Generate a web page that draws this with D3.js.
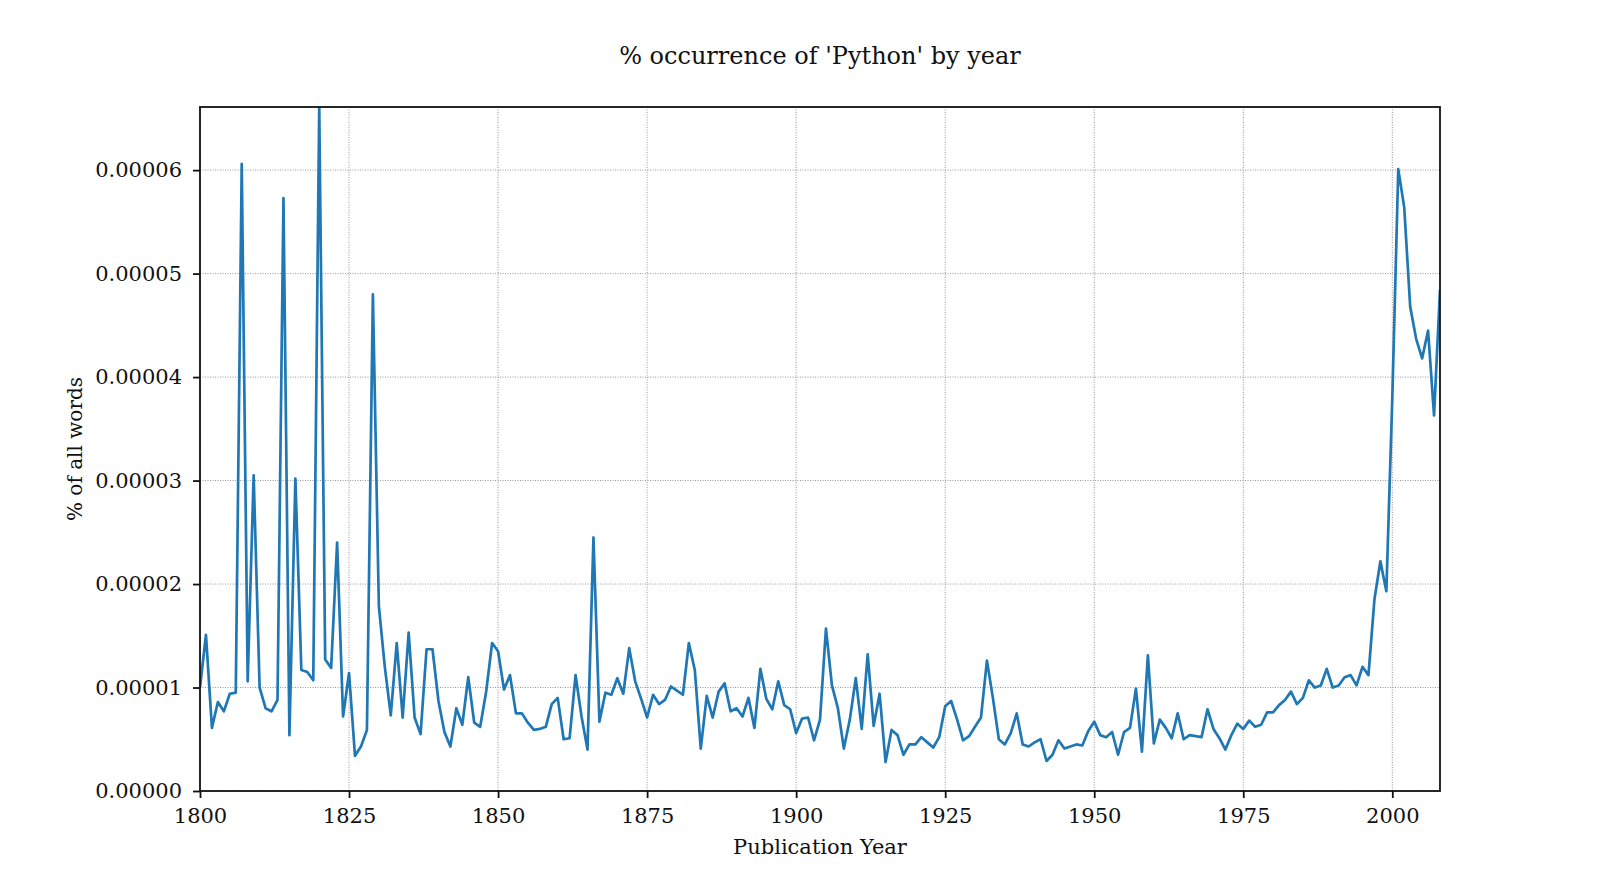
<!DOCTYPE html>
<html>
<head>
<meta charset="utf-8">
<script src="https://cdn.jsdelivr.net/npm/d3@7"></script>
<style>
  html, body { margin: 0; padding: 0; background: #fff; }
  svg text { font-family: "DejaVu Serif", serif; fill: #111; }
</style>
</head>
<body>
<div id="chart"></div>
<script>
// Adatok: 'Python' előfordulása (% az összes szóból), évente 1800-tól
const firstYear = 1800;
const share = [
  // 1800-1809
  1.00e-5, 1.51e-5, 0.61e-5, 0.86e-5, 0.77e-5, 0.94e-5, 0.95e-5, 6.06e-5, 1.06e-5, 3.05e-5,
  // 1810-1819
  1.00e-5, 0.80e-5, 0.77e-5, 0.88e-5, 5.73e-5, 0.54e-5, 3.02e-5, 1.17e-5, 1.15e-5, 1.07e-5,
  // 1820-1829
  6.61e-5, 1.27e-5, 1.19e-5, 2.40e-5, 0.72e-5, 1.14e-5, 0.34e-5, 0.43e-5, 0.59e-5, 4.80e-5,
  // 1830-1839
  1.79e-5, 1.20e-5, 0.73e-5, 1.43e-5, 0.71e-5, 1.53e-5, 0.71e-5, 0.55e-5, 1.37e-5, 1.37e-5,
  // 1840-1849
  0.87e-5, 0.57e-5, 0.43e-5, 0.80e-5, 0.64e-5, 1.10e-5, 0.66e-5, 0.62e-5, 0.96e-5, 1.43e-5,
  // 1850-1859
  1.35e-5, 0.98e-5, 1.12e-5, 0.75e-5, 0.75e-5, 0.66e-5, 0.59e-5, 0.60e-5, 0.62e-5, 0.84e-5,
  // 1860-1869
  0.90e-5, 0.50e-5, 0.51e-5, 1.12e-5, 0.72e-5, 0.40e-5, 2.45e-5, 0.67e-5, 0.95e-5, 0.93e-5,
  // 1870-1879
  1.09e-5, 0.94e-5, 1.38e-5, 1.06e-5, 0.89e-5, 0.71e-5, 0.93e-5, 0.84e-5, 0.88e-5, 1.01e-5,
  // 1880-1889
  0.97e-5, 0.93e-5, 1.43e-5, 1.17e-5, 0.41e-5, 0.92e-5, 0.71e-5, 0.96e-5, 1.04e-5, 0.77e-5,
  // 1890-1899
  0.80e-5, 0.72e-5, 0.90e-5, 0.61e-5, 1.18e-5, 0.89e-5, 0.79e-5, 1.06e-5, 0.83e-5, 0.79e-5,
  // 1900-1909
  0.56e-5, 0.70e-5, 0.71e-5, 0.49e-5, 0.69e-5, 1.57e-5, 1.02e-5, 0.80e-5, 0.41e-5, 0.69e-5,
  // 1910-1919
  1.09e-5, 0.60e-5, 1.32e-5, 0.63e-5, 0.94e-5, 0.28e-5, 0.59e-5, 0.54e-5, 0.35e-5, 0.45e-5,
  // 1920-1929
  0.45e-5, 0.52e-5, 0.47e-5, 0.42e-5, 0.52e-5, 0.82e-5, 0.87e-5, 0.69e-5, 0.49e-5, 0.53e-5,
  // 1930-1939
  0.62e-5, 0.71e-5, 1.26e-5, 0.90e-5, 0.50e-5, 0.45e-5, 0.56e-5, 0.75e-5, 0.45e-5, 0.43e-5,
  // 1940-1949
  0.47e-5, 0.50e-5, 0.29e-5, 0.35e-5, 0.49e-5, 0.41e-5, 0.43e-5, 0.45e-5, 0.44e-5, 0.58e-5,
  // 1950-1959
  0.67e-5, 0.54e-5, 0.52e-5, 0.57e-5, 0.35e-5, 0.57e-5, 0.61e-5, 0.99e-5, 0.38e-5, 1.31e-5,
  // 1960-1969
  0.46e-5, 0.69e-5, 0.61e-5, 0.51e-5, 0.75e-5, 0.50e-5, 0.54e-5, 0.53e-5, 0.52e-5, 0.79e-5,
  // 1970-1979
  0.60e-5, 0.51e-5, 0.40e-5, 0.54e-5, 0.65e-5, 0.60e-5, 0.68e-5, 0.62e-5, 0.64e-5, 0.76e-5,
  // 1980-1989
  0.76e-5, 0.83e-5, 0.88e-5, 0.96e-5, 0.84e-5, 0.90e-5, 1.07e-5, 1.00e-5, 1.02e-5, 1.18e-5,
  // 1990-1999
  1.00e-5, 1.02e-5, 1.10e-5, 1.12e-5, 1.02e-5, 1.20e-5, 1.12e-5, 1.85e-5, 2.22e-5, 1.93e-5,
  // 2000-2008
  3.80e-5, 6.01e-5, 5.64e-5, 4.68e-5, 4.37e-5, 4.18e-5, 4.45e-5, 3.63e-5, 4.84e-5
];
const years = share.map((_, i) => firstYear + i);

// Tengely feliratok
const xTicks = [1800, 1825, 1850, 1875, 1900, 1925, 1950, 1975, 2000];
const yTicks = [0, 1e-5, 2e-5, 3e-5, 4e-5, 5e-5, 6e-5];
const titleText = "% occurrence of 'Python' by year";
const xLabelText = 'Publication Year';
const yLabelText = '% of all words';

// Méretek
const width = 1600, height = 888;
const margin = { top: 107, right: 160, bottom: 97, left: 200 };
const plotW = width - margin.left - margin.right;
const plotH = height - margin.top - margin.bottom;
const lineColor = '#1f77b4';

const svg = d3.select('#chart')
  .append('svg')
  .attr('width', width)
  .attr('height', height);

svg.append('rect')
  .attr('width', width)
  .attr('height', height)
  .attr('fill', '#fff');

const g = svg.append('g')
  .attr('transform', `translate(${margin.left},${margin.top})`);

// Skálák
const x = d3.scaleLinear()
  .domain([firstYear, years[years.length - 1]])
  .range([0, plotW]);
const y = d3.scaleLinear()
  .domain([0, d3.max(share)])
  .range([plotH, 0]);

// Rácsvonalak (pontozott)
g.append('g')
  .selectAll('line')
  .data(xTicks)
  .join('line')
  .attr('x1', d => x(d))
  .attr('x2', d => x(d))
  .attr('y1', 0)
  .attr('y2', plotH)
  .attr('stroke', '#8a8a8a')
  .attr('stroke-width', 0.9)
  .attr('stroke-dasharray', '1,1.5');
g.append('g')
  .selectAll('line')
  .data(yTicks)
  .join('line')
  .attr('x1', 0)
  .attr('x2', plotW)
  .attr('y1', d => y(d))
  .attr('y2', d => y(d))
  .attr('stroke', '#8a8a8a')
  .attr('stroke-width', 0.9)
  .attr('stroke-dasharray', '1,1.5');

// Vonal
g.append('clipPath')
  .attr('id', 'plot-clip')
  .append('rect')
  .attr('width', plotW)
  .attr('height', plotH);

const line = d3.line()
  .x((d, i) => x(years[i]))
  .y(d => y(d));

g.append('path')
  .datum(share)
  .attr('clip-path', 'url(#plot-clip)')
  .attr('fill', 'none')
  .attr('stroke', lineColor)
  .attr('stroke-width', 2.7)
  .attr('stroke-linejoin', 'round')
  .attr('d', line);

// Tengelyek
const xAxis = g.append('g')
  .attr('transform', `translate(0,${plotH})`)
  .call(d3.axisBottom(x).tickValues(xTicks).tickFormat(d3.format('d'))
    .tickSize(7).tickPadding(10).tickSizeOuter(0));
const yAxis = g.append('g')
  .call(d3.axisLeft(y).tickValues(yTicks).tickFormat(d3.format('.5f'))
    .tickSize(7).tickPadding(11).tickSizeOuter(0));

[xAxis, yAxis].forEach(ax => {
  ax.select('.domain').remove();
  ax.selectAll('.tick line').attr('stroke', '#111').attr('stroke-width', 1.8);
  ax.selectAll('.tick text')
    .attr('font-family', '"DejaVu Serif", serif')
    .attr('font-size', 21)
    .attr('fill', '#111');
});

// Keret
g.append('rect')
  .attr('width', plotW)
  .attr('height', plotH)
  .attr('fill', 'none')
  .attr('stroke', '#111')
  .attr('stroke-width', 1.8);

// Cím és tengelycímek
svg.append('text')
  .attr('x', margin.left + plotW / 2)
  .attr('y', 64)
  .attr('text-anchor', 'middle')
  .attr('font-size', 24)
  .text(titleText);

svg.append('text')
  .attr('x', margin.left + plotW / 2)
  .attr('y', 854)
  .attr('text-anchor', 'middle')
  .attr('font-size', 21)
  .text(xLabelText);

svg.append('text')
  .attr('transform', `translate(82,${margin.top + plotH / 2}) rotate(-90)`)
  .attr('text-anchor', 'middle')
  .attr('font-size', 20)
  .text(yLabelText);
</script>
</body>
</html>
